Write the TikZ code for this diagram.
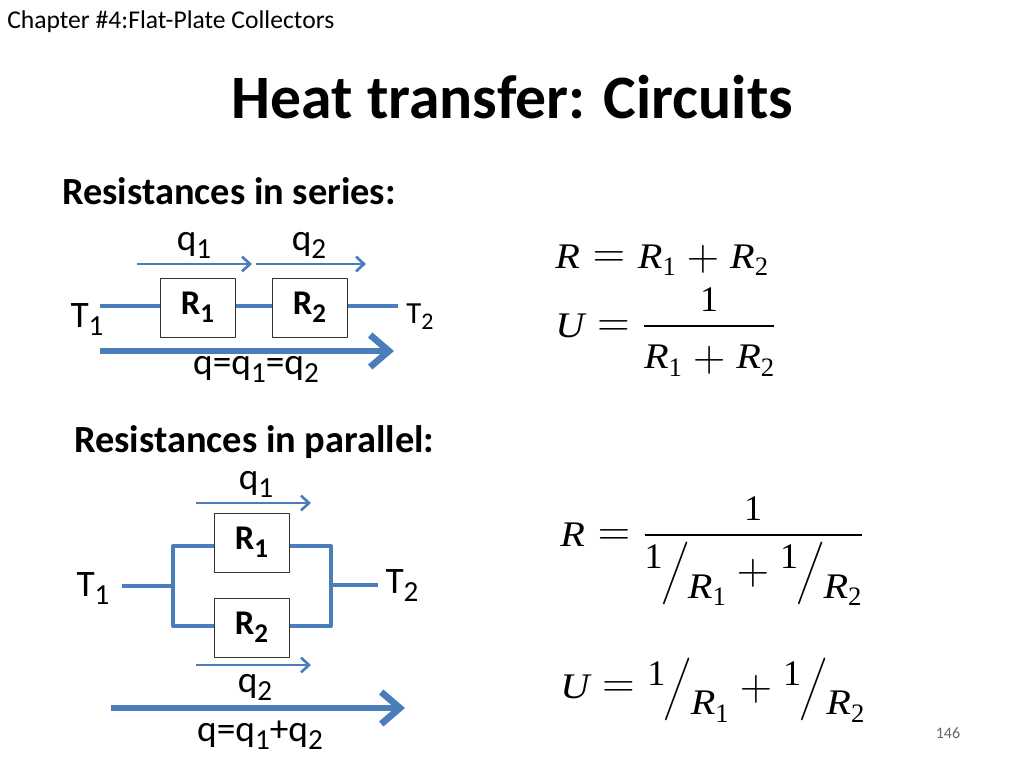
\documentclass[tikz,border=0pt]{standalone}
\usepackage{amsmath}
\usepackage[no-math]{fontspec}
\setmainfont{Carlito}
\newfontfamily\eqfont{Liberation Serif}
\usetikzlibrary{arrows.meta}
\definecolor{wireblue}{HTML}{4A7EBB}
\thickmuskip=7mu
\medmuskip=6mu
\newcommand{\low}[1]{\raisebox{-.22em}{\scalebox{.78}{#1}}}
\newcommand{\vR}{\text{\eqfont\itshape\scalebox{1.12}[1]{R}}}
\newcommand{\vU}{\text{\eqfont\itshape\scalebox{1.12}[1]{U}}}
\newcommand{\num}[1]{\text{\eqfont #1}}
\newcommand{\Rs}[1]{\vR\text{\raisebox{-.2em}{\scalebox{.74}{\eqfont #1}}}}
\newcommand{\iseq}{\mathrel{\vcenter{\hbox{\scalebox{1.35}{$=$}}}}}
\newcommand{\plus}{\mathbin{\vcenter{\hbox{\scalebox{1.35}{$+$}}}}}
\newcommand{\ovr}[1]{\raisebox{.36em}{$\num{1}$}\kern-.04em\vcenter{\hbox{\scalebox{1.05}{$\Big/$}}}\kern-.04em\raisebox{-.47em}{$\Rs{#1}$}}
\newcommand{\upfrac}[2]{\raisebox{.08em}{$\displaystyle\genfrac{}{}{1.5pt}{0}{#1}{#2}$}}
\tikzset{
	resbox/.style={draw=black!80, line width=0.75pt, fill=white, minimum width=56.25pt, minimum height=44.25pt, inner sep=0pt, font=\fontsize{26}{30}\selectfont\bfseries},
	wire/.style={draw=wireblue, line width=3pt},
	flow/.style={draw=wireblue, line width=2pt, -{Straight Barb[length=6pt,width=11pt,line width=2pt]}},
	bigflow/.style={draw=wireblue, line width=5pt, -{Straight Barb[length=14pt,width=24pt,line width=5pt]}},
	lbl/.style={anchor=base, inner sep=0pt, font=\fontsize{28}{32}\selectfont},
	head/.style={anchor=base west, inner sep=0pt, font=\fontsize{28.8}{34}\selectfont\bfseries},
	eqn/.style={anchor=base west, inner sep=0pt, font=\fontsize{27}{32}\selectfont}
}
\begin{document}
\begin{tikzpicture}[x=0.75pt, y=-0.75pt, line join=round]
	\useasboundingbox (0,0) rectangle (1024,768);
	% slide texts
	\node [anchor=base west, inner sep=0pt, font=\fontsize{19.2}{23}\selectfont] (chapter) at (7,28) {Chapter \#4:Flat-Plate Collectors};
	\node [anchor=base, inner sep=0pt, font=\fontsize{46.3}{54}\selectfont\bfseries] (title) at (512.5,118) {Heat transfer: Circuits};
	\node [head] (serieshead) at (62,204) {Resistances in series:};
	\node [head] (parallelhead) at (74,452) {Resistances in parallel:};
	\node [anchor=base, inner sep=0pt, text=black!60, font=\fontsize{12}{14}\selectfont] (page) at (948,738) {146};
	% series
	\node [resbox] (sR1) at (197.5,307.5) {R\low{1}};
	\node [resbox] (sR2) at (309.5,307.5) {R\low{2}};
	\path (100,306) coordinate (sT1)
		++(298,0) coordinate (sT2)
		(137,264) coordinate (sa) ++(115,0) coordinate (sb)
		(256,264) coordinate (sc) ++(110,0) coordinate (sd)
		(100,351) coordinate (se) ++(294,0) coordinate (sf)
	;
	\draw [wire] (sT1)--(sR1.west|-sT1) (sR1.east|-sT1)--(sR2.west|-sT1) (sR2.east|-sT1)--(sT2);
	\draw [flow] (sa)--(sb);
	\draw [flow] (sc)--(sd);
	\draw [bigflow] (se)--(sf);
	\foreach \x/\y/\z/\w in {sq1/194/250/q\low{1},sq2/309/250/q\low{2},sTa/87/327/T\low{1},sqs/256/374/q=q\low{1}=q\low{2}}{
		\node [lbl] (\x) at (\y,\z) {\w};
	}
	\node [lbl, font=\fontsize{23}{27}\selectfont] (sTb) at (420,323) {T\low{2}};
	% parallel
	\node [resbox] (pR1) at (251.5,542.5) {R\low{1}};
	\node [resbox] (pR2) at (251.5,627.5) {R\low{2}};
	\path (173,546) coordinate (pa) (173,626) coordinate (pb)
		(331,546) coordinate (pc) (331,626) coordinate (pd)
		(122,586) coordinate (pT1) (173,586) coordinate (pj)
		(378,585) coordinate (pT2) (331,585) coordinate (pk)
		(196,503) coordinate (pe) ++(115,0) coordinate (pf)
		(196,665) coordinate (pg) ++(115,0) coordinate (ph)
		(111,708) coordinate (pi) ++(294,0) coordinate (pl)
	;
	\draw [wire] (pR1.west|-pa)--(pa)--(pb)--(pR2.west|-pb)
		(pR1.east|-pc)--(pc)--(pd)--(pR2.east|-pd)
		(pT1)--(pj) (pk)--(pT2);
	\draw [flow] (pe)--(pf);
	\draw [flow] (pg)--(ph);
	\draw [bigflow] (pi)--(pl);
	\foreach \x/\y/\z/\w in {pq1/256/489/q\low{1},pq2/255/692/q\low{2},pTa/93/596/T\low{1},pTb/402/593/T\low{2},pqs/260/741/q=q\low{1}+q\low{2}}{
		\node [lbl] (\x) at (\y,\z) {\w};
	}
	% equations
	\node [eqn] (eq1) at (555,268) {$\vR\iseq\Rs{1}\plus\Rs{2}$};
	\node [eqn] (eq2) at (555,337) {$\vU\iseq\upfrac{\num{1}}{\rule{0pt}{1em}\Rs{1}\plus\Rs{2}}$};
	\node [eqn] (eq3) at (560,546) {$\vR\iseq\upfrac{\num{1}}{\ovr{1}\plus\ovr{2}}$};
	\node [eqn] (eq4) at (560,698) {$\vU\iseq\ovr{1}\plus\ovr{2}$};
\end{tikzpicture}
\end{document}
